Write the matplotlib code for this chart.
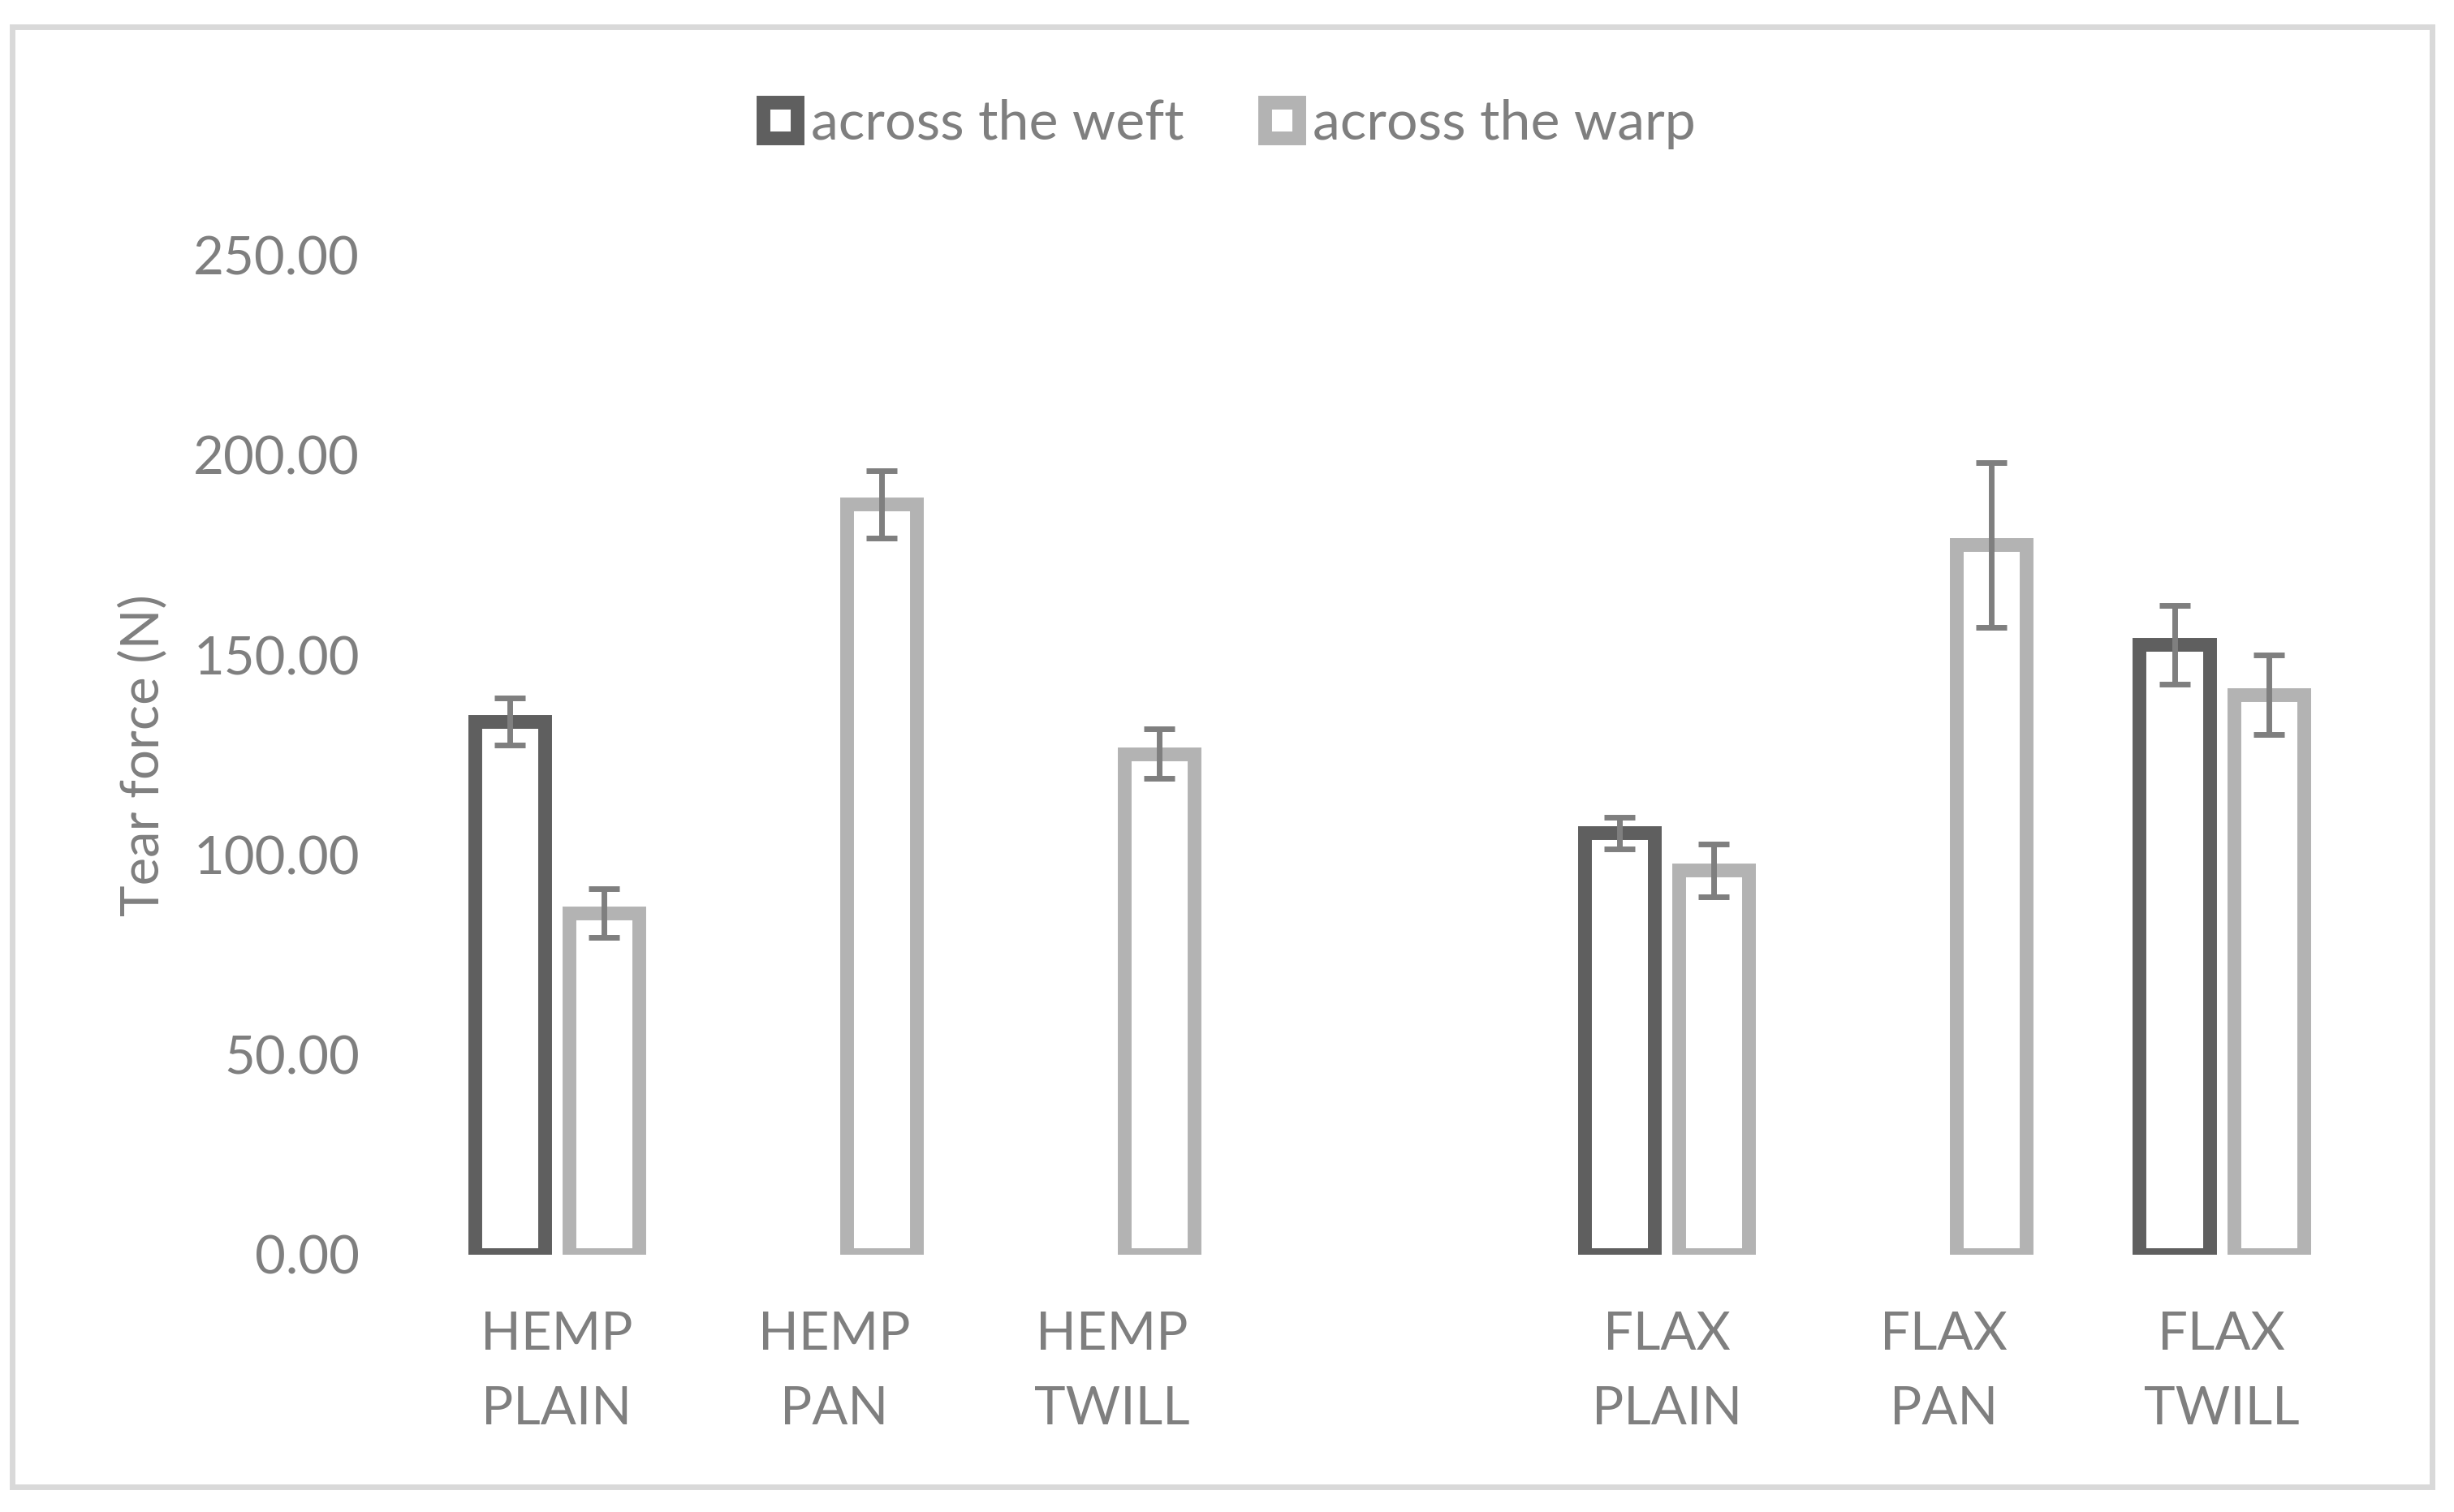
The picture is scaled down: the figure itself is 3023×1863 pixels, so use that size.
import numpy as np
import matplotlib.pyplot as plt
from matplotlib.patches import Rectangle, Patch

# categories (empty slot between the hemp and flax groups)
categories = ['HEMP\nPLAIN', 'HEMP\nPAN', 'HEMP\nTWILL', '', 'FLAX\nPLAIN', 'FLAX\nPAN', 'FLAX\nTWILL']
# tear force across the weft / warp (N)
weft = [133.3, np.nan, np.nan, np.nan, 105.5, np.nan, 152.6]
weft_err = [5.9, np.nan, np.nan, np.nan, 3.9, np.nan, 9.8]
warp = [85.4, 187.7, 125.3, np.nan, 96.2, 177.6, 140.1]
warp_err = [6.1, 8.5, 6.2, np.nan, 6.6, 20.6, 10.0]
series_names = ['across the weft', 'across the warp']
yticks = [0, 50, 100, 150, 200, 250]

plt.rcParams['font.family'] = ['Lato', 'DejaVu Sans']
txt_col = '#7f7f7f'
weft_col = '#5f5f5f'
warp_col = '#b3b3b3'
fs = 47

fig = plt.figure(figsize=(30.23, 18.63), dpi=100)
ax = fig.add_axes([0.1704, 0.1702, 0.9618 - 0.1704, 0.8311 - 0.1702])

x = np.arange(len(categories))
w = 0.252
off = 0.17
lw = 12.2

for vals, errs, col, sign in [(weft, weft_err, weft_col, -1), (warp, warp_err, warp_col, 1)]:
    vals = np.array(vals)
    errs = np.array(errs)
    m = ~np.isnan(vals)
    xs = x[m] + sign * off
    ax.bar(xs, vals[m], width=w, facecolor='white', edgecolor=col, linewidth=lw, zorder=2)
    ax.errorbar(xs, vals[m], yerr=errs[m], fmt='none', ecolor='#7f7f7f',
                elinewidth=5, capsize=13.5, capthick=5, zorder=3)

ax.set_xlim(-0.5, 6.5)
ax.set_ylim(0, 250)
ax.set_yticks(yticks)
ax.set_yticklabels(['%.2f' % v for v in yticks])
ax.set_xticks(x)
ax.set_xticklabels(categories, linespacing=1.68)
ax.tick_params(axis='both', length=0, labelsize=fs, labelcolor=txt_col)
ax.tick_params(axis='y', pad=52)
ax.tick_params(axis='x', pad=50)
for s in ax.spines.values():
    s.set_visible(False)

ax.set_ylabel('Tear force (N)', fontsize=fs, color=txt_col)
ax.yaxis.label.set_verticalalignment('center')
ax.yaxis.set_label_coords(-0.142, 0.5)

handles = [Patch(facecolor='white', edgecolor=weft_col, linewidth=lw),
           Patch(facecolor='white', edgecolor=warp_col, linewidth=lw)]
leg = fig.legend(handles, series_names, loc='center', bbox_to_anchor=(0.501, 0.918), ncol=2,
                 frameon=False, fontsize=49, handlelength=0.62, handleheight=0.62,
                 handletextpad=0.25, columnspacing=1.45)
for t in leg.get_texts():
    t.set_color(txt_col)

# outer chart border
fig.patches.append(Rectangle((15 / 3023, 1 - 1832 / 1863), (2996 - 15) / 3023, (1832 - 33) / 1863,
                             transform=fig.transFigure, fill=False, edgecolor='#d9d9d9', linewidth=5))

fig.savefig('out.png', dpi=100, facecolor='white')
